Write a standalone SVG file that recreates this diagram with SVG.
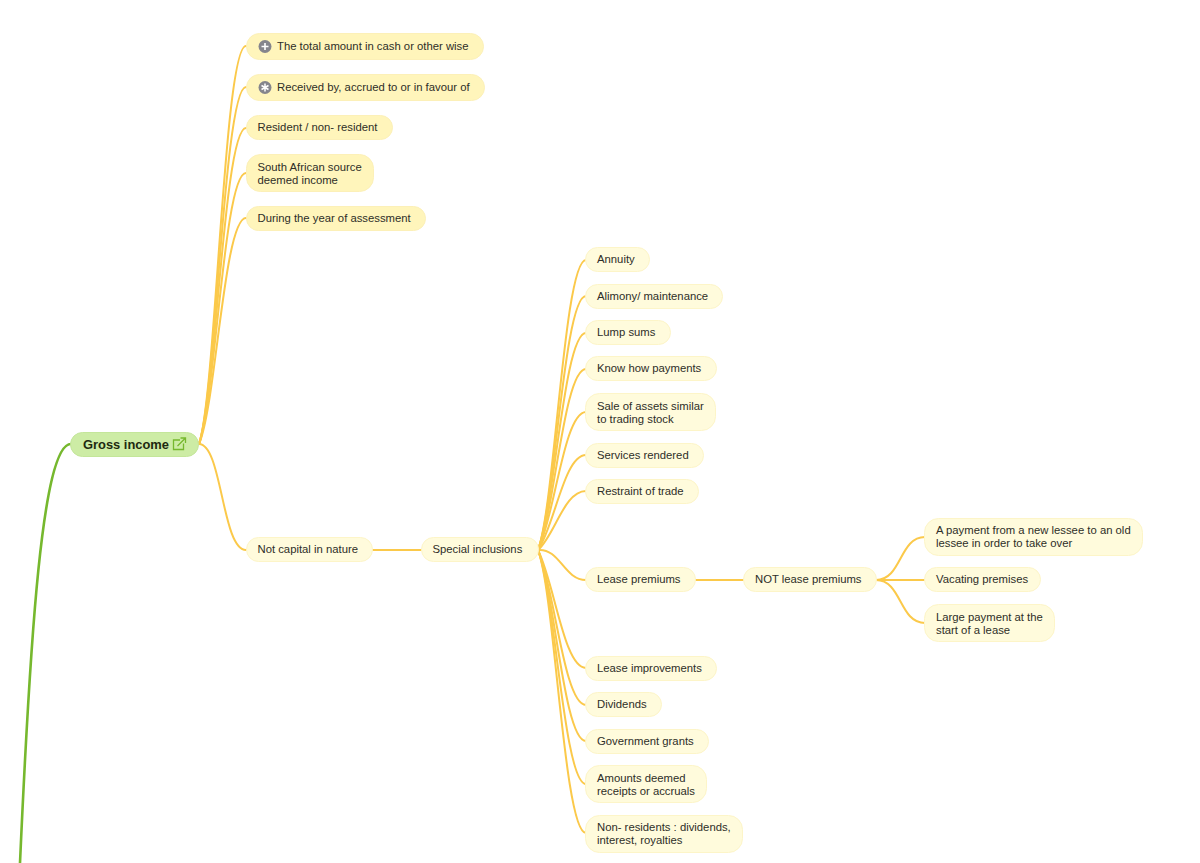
<svg xmlns="http://www.w3.org/2000/svg" width="1200" height="863" viewBox="0 0 1200 863">
<style>
text{font-family:"Liberation Sans",Arial,sans-serif;font-size:11.300px;fill:#2e2e28}
.a rect{fill:#fff5bb;stroke:#fcf0b8;stroke-width:1}
.b rect{fill:#fffbdc;stroke:#fdf5c8;stroke-width:1}
#c path{fill:none;stroke:#fbc94a;stroke-width:2;stroke-linecap:round}
</style>
<rect width="1200" height="863" fill="#fff"/>
<g id="c">
<path d="M20 863C30 640 42 444 71 444" style="stroke:#76b82e;stroke-width:2.600"/>
<path d="M199 444C216 395 224 46 246 46"/>
<path d="M199 444C216 395 224 87 246 87"/>
<path d="M199 444C216 395 224 128 246 128"/>
<path d="M199 444C216 395 224 173 246 173"/>
<path d="M199 444C216 405 224 218 246 218"/>
<path d="M199 444C222 444 222 550 246 550"/>
<path d="M372 550H421"/>
<path d="M538 550C555 505 564 260 586 260"/>
<path d="M538 550C555 505 564 296 586 296"/>
<path d="M538 550C555 505 564 333 586 333"/>
<path d="M538 550C555 510 564 369 586 369"/>
<path d="M538 550C555 515 564 412 586 412"/>
<path d="M538 550C555 525 564 455 586 455"/>
<path d="M538 550C555 535 564 491 586 491"/>
<path d="M538 550C560 548 564 580 586 580"/>
<path d="M538 550C555 585 564 668 586 668"/>
<path d="M538 550C555 590 564 705 586 705"/>
<path d="M538 550C555 595 564 741 586 741"/>
<path d="M538 550C555 595 564 784 586 784"/>
<path d="M538 550C555 595 564 833 586 833"/>
<path d="M695 580H744"/>
<path d="M876 580C902 580 899 537 925 537"/>
<path d="M876 580H925"/>
<path d="M876 580C902 580 899 623 925 623"/>
</g>
<g id="root"><rect x="70.500" y="432.500" width="128" height="24" rx="12" fill="#cdeca5" stroke="#c4e69a"/><text x="83" y="448.500" style="font-size:12.900px;font-weight:700;fill:#1e2a10">Gross income</text>
<g fill="none" stroke="#76b82e" stroke-width="1.300"><path d="M180 440H173.500V449.500H183.500V443.500"/><path d="M177.500 446L185 438.500M180.500 438H185.500V443"/></g></g>
<g id="n1" class="a"><rect x="246.500" y="33.500" width="237" height="26" rx="13"/><circle cx="265" cy="46.500" r="6.500" fill="#85858c"/><path d="M261.500 46.500h7M265 43v7" stroke="#fff" stroke-width="1.600"/><text x="277" y="50">The total amount in cash or other wise</text></g>
<g id="n2" class="a"><rect x="246.500" y="74.500" width="238" height="26" rx="13"/><circle cx="265" cy="87.500" r="6.500" fill="#85858c"/><path d="M265 83.500v8M261.500 85.500l7 4M261.500 89.500l7-4" stroke="#fff" stroke-width="1.500"/><text x="277" y="91">Received by, accrued to or in favour of</text></g>
<g id="n3" class="a"><rect x="246.500" y="115.500" width="146" height="24" rx="12"/><text x="257.500" y="131">Resident / non- resident</text></g>
<g id="n4" class="a"><rect x="246.500" y="154.500" width="127" height="37" rx="14"/><text x="257.500" y="170.500">South African source</text><text x="257.500" y="183.500">deemed income</text></g>
<g id="n5" class="a"><rect x="246.500" y="206.500" width="179" height="24" rx="12"/><text x="257.500" y="222">During the year of assessment</text></g>
<g id="n6" class="b"><rect x="246.500" y="537.500" width="126" height="24" rx="12"/><text x="257.500" y="553">Not capital in nature</text></g>
<g id="n7" class="b"><rect x="421.500" y="537.500" width="117" height="24" rx="12"/><text x="432.500" y="553">Special inclusions</text></g>
<g id="s1" class="b"><rect x="585.500" y="247.500" width="64" height="24" rx="12"/><text x="597" y="263">Annuity</text></g>
<g id="s2" class="b"><rect x="585.500" y="284.500" width="137" height="24" rx="12"/><text x="597" y="300">Alimony/ maintenance</text></g>
<g id="s3" class="b"><rect x="585.500" y="320.500" width="85" height="24" rx="12"/><text x="597" y="336">Lump sums</text></g>
<g id="s4" class="b"><rect x="585.500" y="356.500" width="131" height="24" rx="12"/><text x="597" y="372">Know how payments</text></g>
<g id="s5" class="b"><rect x="585.500" y="393.500" width="130" height="37" rx="14"/><text x="597" y="409.500">Sale of assets similar</text><text x="597" y="422.500">to trading stock</text></g>
<g id="s6" class="b"><rect x="585.500" y="443.500" width="118" height="24" rx="12"/><text x="597" y="459">Services rendered</text></g>
<g id="s7" class="b"><rect x="585.500" y="479.500" width="113" height="24" rx="12"/><text x="597" y="495">Restraint of trade</text></g>
<g id="s8" class="b"><rect x="585.500" y="567.500" width="110" height="24" rx="12"/><text x="597" y="583">Lease premiums</text></g>
<g id="s9" class="b"><rect x="585.500" y="656.500" width="131" height="24" rx="12"/><text x="597" y="672">Lease improvements</text></g>
<g id="s10" class="b"><rect x="585.500" y="692.500" width="76" height="24" rx="12"/><text x="597" y="708">Dividends</text></g>
<g id="s11" class="b"><rect x="585.500" y="729.500" width="123" height="24" rx="12"/><text x="597" y="745">Government grants</text></g>
<g id="s12" class="b"><rect x="585.500" y="765.500" width="121" height="37" rx="14"/><text x="597" y="781.500">Amounts deemed</text><text x="597" y="794.500">receipts or accruals</text></g>
<g id="s13" class="b"><rect x="585.500" y="815.500" width="157" height="37" rx="14"/><text x="597" y="831">Non- residents : dividends,</text><text x="597" y="844">interest, royalties</text></g>
<g id="t1" class="b"><rect x="743.500" y="567.500" width="133" height="24" rx="12"/><text x="755" y="583">NOT lease premiums</text></g>
<g id="u1" class="b"><rect x="924.500" y="518.500" width="218" height="37" rx="14"/><text x="936" y="534">A payment from a new lessee to an old</text><text x="936" y="547">lessee in order to take over</text></g>
<g id="u2" class="b"><rect x="924.500" y="567.500" width="116" height="24" rx="12"/><text x="936" y="583">Vacating premises</text></g>
<g id="u3" class="b"><rect x="924.500" y="604.500" width="130" height="37" rx="14"/><text x="936" y="620.500">Large payment at the</text><text x="936" y="633.500">start of a lease</text></g>
</svg>
